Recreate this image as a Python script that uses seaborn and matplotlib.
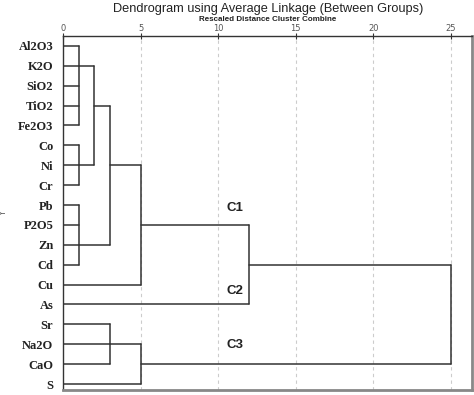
import pandas as pd
import seaborn as sns
import matplotlib.pyplot as plt

# ===============================
# DATA
# ===============================
leaves = ["Al2O3", "K2O", "SiO2", "TiO2", "Fe2O3", "Co", "Ni", "Cr",
          "Pb", "P2O5", "Zn", "Cd", "Cu", "As", "Sr", "Na2O", "CaO", "S"]

# merges (SPSS style): name, children, rescaled distance, row where the link leaves
merge_names = ["g1", "g2", "g3", "g12", "g123", "c1", "c12", "g4", "c3", "all"]
merge_children = [
    ["Al2O3", "K2O", "SiO2", "TiO2", "Fe2O3"],
    ["Co", "Ni", "Cr"],
    ["Pb", "P2O5", "Zn", "Cd"],
    ["g1", "g2"],
    ["g12", "g3"],
    ["g123", "Cu"],
    ["c1", "As"],
    ["Sr", "Na2O", "CaO"],
    ["g4", "S"],
    ["c12", "c3"],
]
merge_dist = [1, 1, 1, 2, 3, 5, 12, 3, 5, 25]
merge_row = ["K2O", "Ni", "Zn", "TiO2", "Ni", "P2O5", "Cd", "Na2O", "CaO", None]

cluster_labels = ["C1", "C2", "C3"]
cluster_label_pos = [(11.1, 8.15), (11.1, 12.3), (11.1, 15.05)]

# ===============================
# BUILD SEGMENTS
# ===============================
node_y = {name: i for i, name in enumerate(leaves)}
node_x = {name: 0 for name in leaves}
rows = []
seg = 0
for name, kids, d, out in zip(merge_names, merge_children, merge_dist, merge_row):
    ys = []
    for k in kids:
        rows.append((seg, node_x[k], node_y[k])); rows.append((seg, d, node_y[k]))
        seg += 1
        ys.append(node_y[k])
    rows.append((seg, d, min(ys))); rows.append((seg, d, max(ys)))
    seg += 1
    node_x[name] = d
    node_y[name] = node_y[out] if out else (min(ys) + max(ys)) / 2

segs = pd.DataFrame(rows, columns=["seg", "dist", "row"])

# ===============================
# PLOT
# ===============================
sns.set_style("white")
fig = plt.figure(figsize=(4.74, 3.95), dpi=100)
ax = fig.add_axes([63 / 474, 1 - 390 / 395, 409 / 474, 354 / 395])

for v in [5, 10, 15, 20, 25]:
    ax.axvline(v, color="#cccccc", lw=0.8, ls=(0, (3, 3)), zorder=0)

sns.lineplot(data=segs, x="dist", y="row", units="seg", estimator=None,
             sort=False, color="#333333", lw=1.1, ax=ax, legend=False)

ax.set_xlim(0, 26.35)
ax.set_ylim(17.3, -0.5)
ax.xaxis.tick_top()
ax.set_xticks([0, 5, 10, 15, 20, 25])
ax.tick_params(axis="x", direction="inout", length=4, width=0.8, pad=0,
               labelsize=6, labelcolor="#555555", color="#333333")
ax.set_yticks(range(len(leaves)))
ax.set_yticklabels(leaves, fontfamily="Liberation Serif", fontweight="bold",
                   fontsize=9, color="#222222")
ax.tick_params(axis="y", length=0, pad=7)
ax.set_xlabel("")
ax.set_ylabel("Y", fontsize=6, color="#555555")
ax.yaxis.set_label_coords(-0.135, 0.5)

for side in ["top", "left"]:
    ax.spines[side].set_color("#333333")
    ax.spines[side].set_linewidth(1.0)
for side in ["right", "bottom"]:
    ax.spines[side].set_color("#888888")
    ax.spines[side].set_linewidth(2.0)

for lab, (x, y) in zip(cluster_labels, cluster_label_pos):
    ax.text(x, y, lab, fontsize=9.5, fontweight="bold", color="#222222",
            fontfamily="Liberation Sans", ha="center", va="center")

fig.text(268 / 474, 1 - 9 / 395, "Dendrogram using Average Linkage (Between Groups)",
         fontsize=9.2, fontfamily="Liberation Sans", ha="center", va="center",
         color="#222222")
fig.text(268 / 474, 1 - 19.5 / 395, "Rescaled Distance Cluster Combine",
         fontsize=5.8, fontweight="bold", fontfamily="Liberation Sans",
         ha="center", va="center", color="#222222")

fig.savefig("out.png", dpi=100)
